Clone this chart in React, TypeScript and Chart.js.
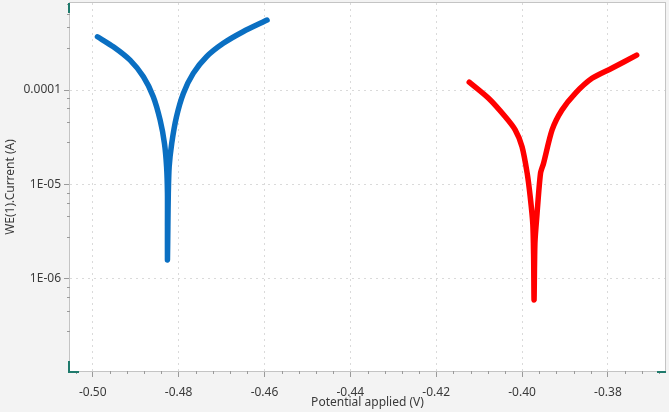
import React, { useEffect, useRef } from "react";
import { Chart, registerables } from "chart.js";

Chart.register(...registerables);

// Series 1 (blue) — potential (V) and current (A)
const blueX = [
  -0.4989, -0.4952, -0.4913, -0.4882, -0.4859, -0.4843, -0.4833, -0.4828, -0.4826, -0.4826, -0.4826,
  -0.4825, -0.4824, -0.4822, -0.4816, -0.4805, -0.4789, -0.4766, -0.4735, -0.4696, -0.465, -0.4594,
];
const blueY = [
  3.66e-4, 2.87e-4, 2.07e-4, 1.38e-4, 8.5e-5, 4.8e-5, 2.73e-5, 1.54e-5, 8.07e-6, 3.57e-6, 1.59e-6,
  3.6e-6, 8.0e-6, 1.54e-5, 2.73e-5, 5.2e-5, 9.2e-5, 1.5e-4, 2.25e-4, 3.12e-4, 4.14e-4, 5.5e-4,
];

// Series 2 (red)
const redX = [
  -0.4123, -0.4078, -0.4039, -0.4016, -0.4, -0.3988, -0.3981, -0.3975, -0.3973, -0.3972,
  -0.397, -0.3965, -0.3957, -0.395, -0.393, -0.3907, -0.3876, -0.3837, -0.3791, -0.3733,
];
const redY = [
  1.21e-4, 8.17e-5, 5.2e-5, 3.78e-5, 2.51e-5, 1.31e-5, 7.43e-6, 3.88e-6, 1.72e-6, 6.0e-7,
  2.4e-6, 4.95e-6, 1.31e-5, 1.67e-5, 3.78e-5, 6.14e-5, 9.23e-5, 1.33e-4, 1.7e-4, 2.34e-4,
];

// Axes
const xRange = [-0.5053, -0.3667];
const yRange = [1.06e-7, 8.34e-4];
const xTickValues = [-0.5, -0.48, -0.46, -0.44, -0.42, -0.4, -0.38];
const yTickValues = [1e-6, 1e-5, 1e-4];
const yTickLabels = ["1E-06", "1E-05", "0.0001"];
const xMinorStep = 0.004;
const yDecades = [1e-7, 1e-6, 1e-5, 1e-4];
const yMinorFactors = [2.8, 4.6, 6.4, 8.2];

const FONT = "'Noto Sans', 'Open Sans', sans-serif";
const TEXT = "#3a3a3a";
const TICK = "#9a9a9a";
const TEAL = "#1f7a6c";

const decorPlugin = {
  id: "decor",
  beforeDraw(chart: any) {
    const { ctx, chartArea: a } = chart;
    ctx.save();
    ctx.fillStyle = "#f3f3f3";
    ctx.fillRect(0, 0, chart.width, chart.height);
    ctx.fillStyle = "#ffffff";
    ctx.fillRect(a.left, a.top, a.right - a.left, a.bottom - a.top);
    ctx.restore();
  },
  beforeDatasetsDraw(chart: any) {
    const { ctx, chartArea: a } = chart;
    ctx.save();
    ctx.strokeStyle = "#c4c4c4";
    ctx.lineWidth = 1;
    ctx.strokeRect(a.left - 0.5, a.top - 0.5, a.right - a.left + 1, a.bottom - a.top + 1);
    ctx.restore();
  },
  afterDraw(chart: any) {
    const { ctx, chartArea: a } = chart;
    const xs = chart.scales.x;
    const ys = chart.scales.y;
    ctx.save();
    ctx.strokeStyle = TICK;
    ctx.lineWidth = 1;
    ctx.beginPath();
    const iStart = Math.ceil(xRange[0] / xMinorStep - 1e-9);
    const iEnd = Math.floor(xRange[1] / xMinorStep + 1e-9);
    for (let i = iStart; i <= iEnd; i++) {
      if (i % 5 === 0) continue;
      const px = Math.round(xs.getPixelForValue(i * xMinorStep)) + 0.5;
      ctx.moveTo(px, a.bottom);
      ctx.lineTo(px, a.bottom + 3);
    }
    for (const d of yDecades) {
      for (const f of yMinorFactors) {
        const v = d * f;
        if (v < yRange[0] || v > yRange[1]) continue;
        const py = Math.round(ys.getPixelForValue(v)) + 0.5;
        ctx.moveTo(a.left - 3, py);
        ctx.lineTo(a.left, py);
      }
    }
    ctx.stroke();

    ctx.strokeStyle = TEAL;
    ctx.lineWidth = 2;
    ctx.beginPath();
    ctx.moveTo(a.left - 1, a.top);
    ctx.lineTo(a.left - 1, a.top + 10);
    ctx.moveTo(a.left - 1, a.bottom - 10);
    ctx.lineTo(a.left - 1, a.bottom + 1);
    ctx.lineTo(a.left + 9, a.bottom + 1);
    ctx.moveTo(a.right - 8, a.bottom + 1);
    ctx.lineTo(a.right + 1, a.bottom + 1);
    ctx.stroke();
    ctx.restore();
  },
};

export default function App() {
  const ref = useRef<HTMLCanvasElement>(null);

  useEffect(() => {
    document.body.style.margin = "0";
    const chart = new Chart(ref.current as HTMLCanvasElement, {
      type: "line",
      data: {
        datasets: [
          {
            label: "blue",
            data: blueX.map((x, i) => ({ x, y: blueY[i] })),
            borderColor: "#0a6fc2",
            borderWidth: 5.5,
            borderCapStyle: "round",
            borderJoinStyle: "round",
            pointRadius: 0,
            tension: 0.25,
            fill: false,
          },
          {
            label: "red",
            data: redX.map((x, i) => ({ x, y: redY[i] })),
            borderColor: "#ff0000",
            borderWidth: 5.5,
            borderCapStyle: "round",
            borderJoinStyle: "round",
            pointRadius: 0,
            tension: 0.25,
            fill: false,
          },
        ],
      },
      options: {
        responsive: false,
        animation: false,
        layout: { padding: { top: 3, right: 4, left: 0, bottom: 0 } },
        plugins: { legend: { display: false }, tooltip: { enabled: false } },
        scales: {
          x: {
            type: "linear",
            min: xRange[0],
            max: xRange[1],
            afterBuildTicks: (s: any) => {
              s.ticks = xTickValues.map((v) => ({ value: v }));
            },
            afterFit: (s: any) => {
              s.height = 41;
              s.paddingLeft = 0;
              s.paddingRight = 0;
            },
            ticks: {
              autoSkip: false,
              maxRotation: 0,
              padding: 8,
              color: TEXT,
              font: { family: FONT, size: 12 },
              callback: (v: any) => Number(v).toFixed(2),
            },
            grid: {
              color: "#dadada",
              tickColor: TICK,
              tickLength: 6,
            },
            border: { display: false, dash: [2, 4] },
            title: {
              display: true,
              text: "Potential applied (V)",
              color: TEXT,
              font: { family: FONT, size: 12 },
              padding: { top: 0, bottom: 2 },
            },
          },
          y: {
            type: "logarithmic",
            min: yRange[0],
            max: yRange[1],
            afterBuildTicks: (s: any) => {
              s.ticks = yTickValues.map((v) => ({ value: v }));
            },
            afterFit: (s: any) => {
              s.width = 70;
              s.paddingTop = 0;
              s.paddingBottom = 0;
            },
            ticks: {
              autoSkip: false,
              padding: 3,
              color: TEXT,
              font: { family: FONT, size: 12 },
              callback: (_v: any, i: number) => yTickLabels[i],
            },
            grid: {
              color: "#dadada",
              tickColor: TICK,
              tickLength: 6,
            },
            border: { display: false, dash: [2, 4] },
            title: {
              display: true,
              text: "WE(1).Current (A)",
              color: TEXT,
              font: { family: FONT, size: 12 },
              padding: { top: 3, bottom: 0 },
            },
          },
        },
      },
      plugins: [decorPlugin],
    } as any);
    return () => chart.destroy();
  }, []);

  return (
    <div style={{ width: 669, height: 412 }}>
      <canvas ref={ref} width={669} height={412} style={{ display: "block", width: 669, height: 412 }} />
    </div>
  );
}
